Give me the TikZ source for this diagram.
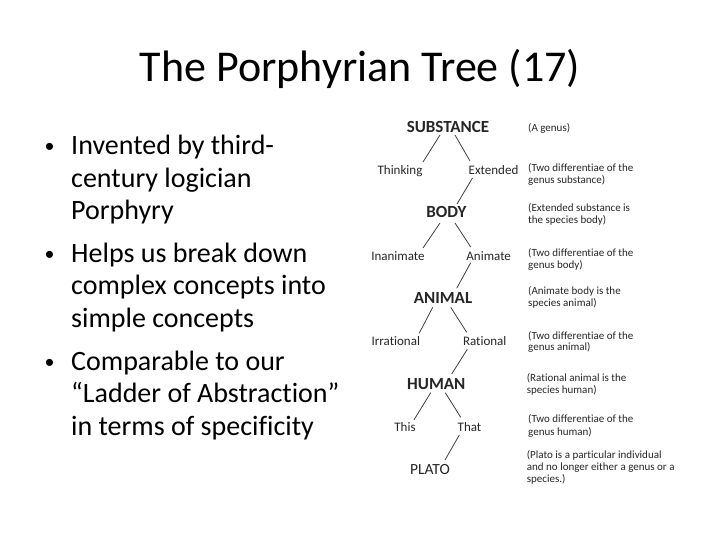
\documentclass[tikz,border=0pt]{standalone}
\usepackage{fontspec}
\setmainfont[Ligatures=NoCommon]{Carlito}
\definecolor{treetext}{rgb}{0.15,0.15,0.15}
\definecolor{treeline}{rgb}{0.25,0.25,0.25}
\begin{document}
\begin{tikzpicture}[x=1pt,y=-1pt,
  titlestyle/.style={anchor=base,inner sep=0pt,font=\fontsize{44}{52}\selectfont},
  bulletstyle/.style={anchor=base west,inner sep=0pt,font=\fontsize{28}{32.5}\selectfont},
  dotstyle/.style={anchor=base west,inner sep=0pt,font=\fontsize{20}{24}\selectfont},
  boldlab/.style={anchor=base,inner sep=0pt,text=treetext,font=\fontsize{17}{20}\selectfont\bfseries},
  difflab/.style={anchor=base,inner sep=0pt,text=treetext,font=\fontsize{13}{15}\selectfont},
  platolab/.style={anchor=base,inner sep=0pt,text=treetext,font=\fontsize{15.5}{18}\selectfont},
  note/.style={anchor=base west,inner sep=0pt,text=treetext,font=\fontsize{11}{12}\selectfont},
  branch/.style={draw=treeline,line width=0.8pt}]
\useasboundingbox[fill=white] (0,0) rectangle (720,540);

\node[titlestyle] (title) at (360,81.5) {The Porphyrian Tree (17)};

\node[dotstyle] (d1) at (44.5,153) {•};
\node[bulletstyle] (t1) at (71,155) {\parbox[t]{300pt}{\baselineskip=32.5pt Invented by third-\\century logician\\Porphyry}};
\node[dotstyle] (d2) at (44.5,260) {•};
\node[bulletstyle] (t2) at (71,262) {\parbox[t]{300pt}{\baselineskip=32.5pt Helps us break down\\complex concepts into\\simple concepts}};
\node[dotstyle] (d3) at (44.5,368) {•};
\node[bulletstyle] (t3) at (71,370) {\parbox[t]{300pt}{\baselineskip=32.5pt Comparable to our\\“Ladder of Abstraction”\\in terms of specificity}};

% tree nodes
\node[boldlab] (sub) at (448,132.7) {SUBSTANCE};
\node[difflab] (think) at (400,175) {Thinking};
\node[difflab] (ext) at (493.5,175) {Extended};
\node[boldlab] (body) at (446.5,218) {BODY};
\node[difflab] (inan) at (398,260) {Inanimate};
\node[difflab] (anim) at (488.7,260) {Animate};
\node[boldlab] (animal) at (443,303.3) {ANIMAL};
\node[difflab] (irr) at (395.8,345.5) {Irrational};
\node[difflab] (rat) at (484.7,345) {Rational};
\node[boldlab] (human) at (436.3,389.3) {HUMAN};
\node[difflab] (this) at (405,431.5) {This};
\node[difflab] (that) at (469.5,431) {That};
\node[platolab] (plato) at (430,474) {PLATO};

% connectors
\draw[branch] ([xshift=-8pt,yshift=-2.3pt]sub.base) -- ([xshift=23pt,yshift=13pt]think.base);
\draw[branch] ([xshift=7pt,yshift=-2.3pt]sub.base) -- ([xshift=-23.5pt,yshift=14pt]ext.base);
\draw[branch] ([xshift=-21pt,yshift=-3pt]ext.base) -- ([xshift=10.5pt,yshift=14pt]body.base);
\draw[branch] ([xshift=-6.5pt,yshift=-5pt]body.base) -- ([xshift=25pt,yshift=12pt]inan.base);
\draw[branch] ([xshift=8.5pt,yshift=-5pt]body.base) -- ([xshift=-18pt,yshift=13pt]anim.base);
\draw[branch] ([xshift=-18pt,yshift=-2.7pt]anim.base) -- ([xshift=13.7pt,yshift=15pt]animal.base);
\draw[branch] ([xshift=-10.3pt,yshift=-4pt]animal.base) -- ([xshift=23.5pt,yshift=12.4pt]irr.base);
\draw[branch] ([xshift=7.7pt,yshift=-4pt]animal.base) -- ([xshift=-18pt,yshift=12.7pt]rat.base);
\draw[branch] ([xshift=-17.4pt,yshift=-4.3pt]rat.base) -- ([xshift=15.4pt,yshift=15.3pt]human.base);
\draw[branch] ([xshift=-5.6pt,yshift=-3.4pt]human.base) -- ([xshift=9pt,yshift=11.7pt]this.base);
\draw[branch] ([xshift=9pt,yshift=-3.4pt]human.base) -- ([xshift=-8.8pt,yshift=13.7pt]that.base);
\draw[branch] ([xshift=-10.2pt,yshift=-4pt]that.base) -- ([xshift=15pt,yshift=14pt]plato.base);

% notes
\node[note] (n1) at (528,132) {(A genus)};
\node[note] (n2) at (528,172) {\parbox[t]{150pt}{\baselineskip=12pt (Two differentiae of the\\genus substance)}};
\node[note] (n3) at (528,211.7) {\parbox[t]{150pt}{\baselineskip=11.5pt (Extended substance is\\the species body)}};
\node[note] (n4) at (528,256.7) {\parbox[t]{150pt}{\baselineskip=11.5pt (Two differentiae of the\\genus body)}};
\node[note] (n5) at (528,294.3) {\parbox[t]{150pt}{\baselineskip=11.7pt (Animate body is the\\species animal)}};
\node[note] (n6) at (528,339) {\parbox[t]{150pt}{\baselineskip=11.7pt (Two differentiae of the\\genus animal)}};
\node[note] (n7) at (526.7,381.7) {\parbox[t]{150pt}{\baselineskip=11.7pt (Rational animal is the\\species human)}};
\node[note] (n8) at (528,422.7) {\parbox[t]{150pt}{\baselineskip=12.3pt (Two differentiae of the\\genus human)}};
\node[note] (n9) at (526.7,458.3) {\parbox[t]{190pt}{\baselineskip=12.2pt (Plato is a particular individual\\and no longer either a genus or a\\species.)}};
\end{tikzpicture}
\end{document}
